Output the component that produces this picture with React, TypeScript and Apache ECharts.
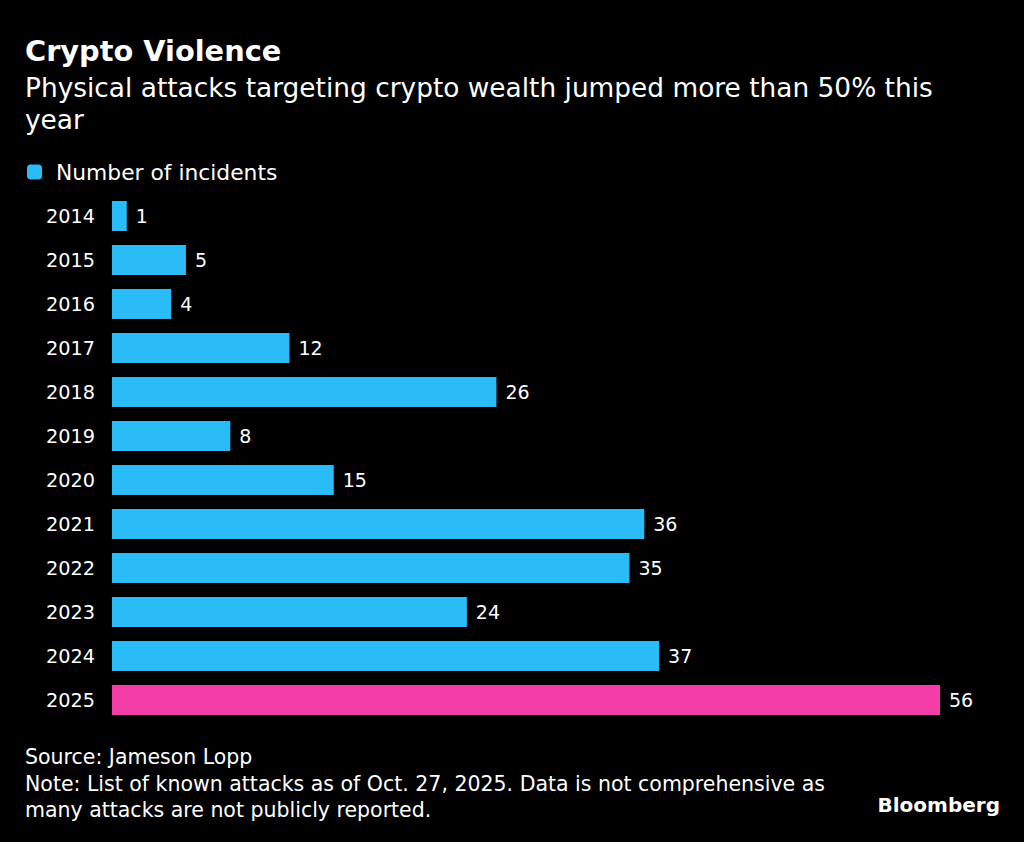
import React, { useEffect, useRef } from "react";
import * as echarts from "echarts";

const years = ["2014", "2015", "2016", "2017", "2018", "2019", "2020", "2021", "2022", "2023", "2024", "2025"];
const incidents = [1, 5, 4, 12, 26, 8, 15, 36, 35, 24, 37, 56];
const highlightYear = "2025";

const titleText = "Crypto Violence";
const subtitleLines = ["Physical attacks targeting crypto wealth jumped more than 50% this", "year"];
const sourceText = "Source: Jameson Lopp";
const noteLines = [
  "Note: List of known attacks as of Oct. 27, 2025. Data is not comprehensive as",
  "many attacks are not publicly reported.",
];

const BLUE = "#29BCF7";
const PINK = "#F43DA8";
const FONT = "DejaVu Sans";

export default function App() {
  const ref = useRef<HTMLDivElement>(null);
  useEffect(() => {
    if (!ref.current) return;
    const chart = echarts.init(ref.current, null, { renderer: "svg" });
    chart.setOption({
      animation: false,
      backgroundColor: "#000000",
      textStyle: { fontFamily: FONT },
      legend: {
        show: true,
        left: 27,
        top: 161,
        padding: 0,
        icon: "roundRect",
        itemWidth: 15,
        itemHeight: 15,
        textStyle: { color: "#ffffff", fontSize: 21.8, fontFamily: FONT, padding: [0, 0, 0, 9] },
        data: ["Number of incidents"],
      },
      grid: { left: 112, right: 84, top: 194, bottom: 120, containLabel: false },
      xAxis: {
        type: "value",
        min: 0,
        max: 56,
        show: false,
      },
      yAxis: {
        type: "category",
        data: years,
        inverse: true,
        axisLine: { show: false },
        axisTick: { show: false },
        splitLine: { show: false },
        axisLabel: { color: "#ffffff", fontSize: 19.3, margin: 17, fontFamily: FONT },
      },
      series: [
        {
          name: "Number of incidents",
          type: "bar",
          barWidth: 30,
          itemStyle: { color: BLUE },
          label: {
            show: true,
            position: "right",
            distance: 9,
            color: "#ffffff",
            fontSize: 19,
            fontFamily: FONT,
          },
          data: incidents.map((v, i) => ({
            value: v,
            itemStyle: { color: years[i] === highlightYear ? PINK : BLUE },
          })),
        },
      ],
      graphic: [
        {
          type: "text",
          left: 25,
          top: 36,
          style: { text: titleText, fill: "#ffffff", font: `bold 28.8px '${FONT}'` },
        },
        {
          type: "text",
          left: 25,
          top: 71,
          style: {
            text: subtitleLines.join("\n"),
            fill: "#ffffff",
            font: `26.4px '${FONT}'`,
            lineHeight: 32,
          },
        },
        {
          type: "text",
          left: 25,
          top: 744,
          style: {
            text: [sourceText, ...noteLines].join("\n"),
            fill: "#ffffff",
            font: `20.5px '${FONT}'`,
            lineHeight: 26.5,
          },
        },
        {
          type: "text",
          right: 24,
          top: 795,
          style: { text: "Bloomberg", fill: "#ffffff", font: `bold 20px '${FONT}'` },
        },
      ],
    });
    return () => chart.dispose();
  }, []);
  return (
    <div
      ref={ref}
      style={{ position: "absolute", left: 0, top: 0, width: 1024, height: 842, background: "#000" }}
    />
  );
}
